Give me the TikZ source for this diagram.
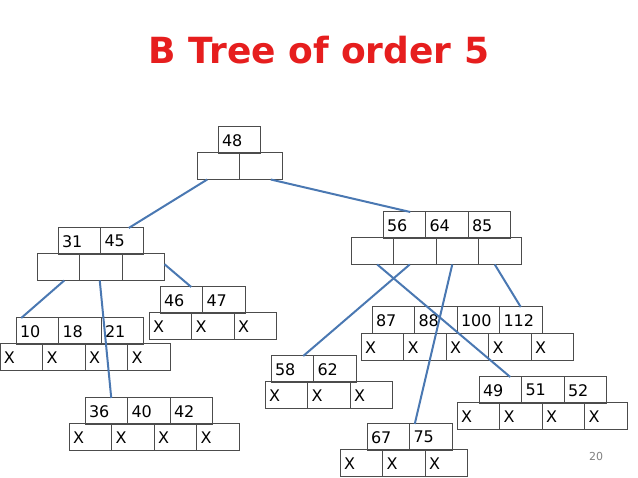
\documentclass[tikz,border=0pt]{standalone}
\usepackage{fontspec}
\setmainfont{DejaVu Sans}
\usetikzlibrary{calc}
\tikzset{
 cell/.style={draw=black!70, line width=1pt, minimum height=26.5pt, text width=34.5pt, inner xsep=4pt, inner ysep=0pt, align=left, font=\fontsize{16}{17}\selectfont, anchor=north west, outer sep=0pt},
 link/.style={line width=2pt, color={rgb,255:red,74;green,120;blue,178}}
}
\newcommand\brow[4]{\foreach \t [count=\i] in {#4} {\node[cell] (#1-\i) at ({#2+(\i-1)*42.5},{-#3}) {\t};}}
\begin{document}
\begin{tikzpicture}[x=1pt,y=1pt]
\useasboundingbox (0,0) rectangle (638,-478);
\node[font=\fontsize{36}{40}\selectfont\bfseries, text={rgb,255:red,230;green,30;blue,30}] (title) at (319,-50) {B Tree of order 5};
\node[font=\fontsize{11}{12}\selectfont, text=black!50] (pg) at (596,-456) {20};
\brow{R}{218}{127}{48}
\brow{Rp}{197}{153}{{},{}}
\brow{A}{58}{228}{31,45}
\brow{Ap}{37}{254}{{},{},{}}
\brow{B}{160}{287}{46,47}
\brow{Bx}{149}{313}{X,X,X}
\brow{C}{16}{318}{10,18,21}
\brow{Cx}{0}{344}{X,X,X,X}
\brow{D}{85}{398}{36,40,42}
\brow{Dx}{69}{424}{X,X,X,X}
\brow{E}{383}{212}{56,64,85}
\brow{Ep}{351}{238}{{},{},{},{}}
\brow{F}{372}{307}{87,88,100,112}
\brow{Fx}{361}{334}{X,X,X,X,X}
\brow{G}{271}{356}{58,62}
\brow{Gx}{265}{382}{X,X,X}
\brow{H}{479}{377}{49,51,52}
\brow{Hx}{457}{403}{X,X,X,X}
\brow{K}{367}{424}{67,75}
\brow{Kx}{340}{450}{X,X,X}
\draw[link] ($(Rp-1.south)+(-11,0)$) -- ($(A-2.north)+(7,0)$);
\draw[link] ($(Rp-2.south)+(10,0)$) -- ($(E-1.north)+(6,0)$);
\draw[link] ($(Ap-1.south)+(6,0)$) -- ($(C-1.north)+(-16,0)$);
\draw[link] ($(Ap-2.south)+(-1,0)$) -- ($(D-1.north)+(5,0)$);
\draw[link] ($(Ap-3.east)+(0,3)$) -- ($(B-1.north)+(10,0)$);
\draw[link] ($(Ep-1.south)+(5,0)$) -- ($(H-1.north)+(10,0)$);
\draw[link] ($(Ep-2.south)+(-5,0)$) -- ($(G-1.north)+(11,0)$);
\draw[link] ($(Ep-3.south)+(-5,0)$) -- ($(K-2.north)+(-16,0)$);
\draw[link] ($(Ep-4.south)+(-5,0)$) -- ($(F-4.north)+(0,0)$);
\end{tikzpicture}
\end{document}
